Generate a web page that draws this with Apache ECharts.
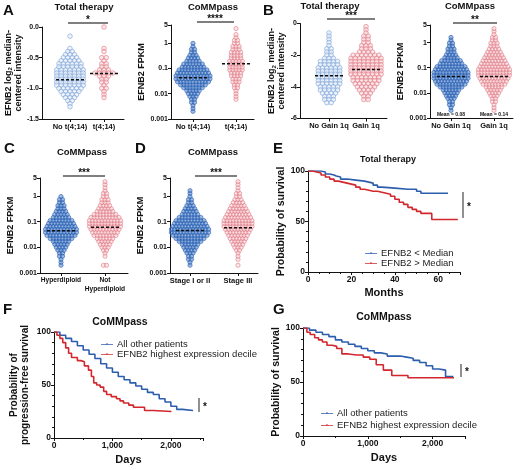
<!DOCTYPE html>
<html>
<head>
<meta charset="utf-8">
<script src="https://cdn.jsdelivr.net/npm/echarts@6/dist/echarts.min.js"></script>
<style>
  html, body { margin: 0; padding: 0; background: #fff; }
  #chart { width: 520px; height: 470px; }
</style>
</head>
<body>
<div id="chart"></div>
<script>
// ---- data ----
// beeswarm panels: each row is one y level, the count is how many dots sit on it
var intensityRowsA = [0, -0.05, -0.1, -0.15, -0.2, -0.25, -0.3, -0.35, -0.4, -0.45, -0.5, -0.55, -0.6, -0.65, -0.7, -0.75, -0.8, -0.85, -0.9, -0.95, -1.0, -1.05, -1.1, -1.15, -1.2, -1.25, -1.3];
var aTotalNoT414 = [0, 0, 0, 1, 0, 0, 0, 1, 2, 3, 4, 5, 6, 6, 7, 7, 7, 7, 7, 7, 6, 5, 4, 3, 2, 1, 1];
var aTotalT414 = [1, 0, 0, 0, 0, 0, 0, 1, 1, 0, 2, 1, 2, 2, 3, 5, 3, 2, 2, 1, 2, 1, 1, 1, 0, 0, 0];

var intensityRowsB = [0, -0.2, -0.4, -0.6, -0.8, -1.0, -1.2, -1.4, -1.6, -1.8, -2.0, -2.2, -2.4, -2.6, -2.8, -3.0, -3.2, -3.4, -3.6, -3.8, -4.0, -4.2, -4.4, -4.6, -4.8, -5.0];
var bTotalNoGain = [0, 0, 0, 1, 1, 1, 1, 1, 2, 2, 2, 3, 5, 5, 6, 6, 6, 6, 6, 6, 5, 5, 4, 3, 3, 2];
var bTotalGain = [0, 1, 1, 1, 2, 2, 2, 3, 3, 4, 7, 8, 8, 8, 8, 8, 8, 7, 7, 6, 5, 4, 3, 2, 2, 0];

var fpkmRows = [0.002, 0.0026, 0.0034, 0.0045, 0.006, 0.0077, 0.01, 0.013, 0.017, 0.022, 0.029, 0.038, 0.05, 0.065, 0.085, 0.11, 0.145, 0.19, 0.25, 0.32, 0.42, 0.55, 0.72, 0.95, 1.25, 1.6, 2.1, 2.8, 3.6];
var aCmNoT414 = [1, 1, 1, 2, 2, 3, 4, 5, 7, 9, 11, 12, 12, 11, 10, 8, 7, 5, 4, 3, 2, 2, 1, 1, 0, 0, 0, 0, 0];
var aCmT414 = [0, 0, 0, 0, 1, 1, 1, 1, 2, 2, 3, 3, 4, 4, 5, 5, 5, 5, 4, 4, 4, 3, 3, 2, 2, 1, 1, 0, 1];
var bCmNoGain = [1, 1, 2, 2, 3, 4, 5, 6, 8, 10, 11, 12, 12, 12, 11, 10, 8, 7, 5, 4, 3, 3, 2, 2, 1, 1, 0, 0, 0];
var bCmGain = [1, 1, 1, 2, 2, 3, 4, 5, 6, 8, 9, 10, 11, 11, 11, 10, 9, 8, 7, 6, 5, 4, 3, 3, 2, 2, 1, 1, 1];
var cHyper = [1, 1, 1, 2, 2, 3, 4, 5, 6, 8, 10, 11, 11, 10, 9, 8, 6, 5, 4, 3, 3, 2, 2, 1, 0, 0, 0, 0, 0];
var cNotHyper = [2, 0, 0, 1, 1, 2, 3, 4, 5, 6, 8, 9, 10, 11, 11, 11, 10, 8, 6, 5, 4, 3, 3, 2, 2, 1, 1, 1, 1];
var dStage12 = [1, 1, 2, 2, 3, 4, 5, 6, 8, 10, 12, 13, 13, 12, 11, 10, 8, 6, 5, 4, 3, 2, 2, 1, 1, 1, 0, 0, 0];
var dStage3 = [1, 0, 1, 1, 1, 2, 3, 4, 5, 6, 7, 8, 9, 10, 10, 10, 9, 8, 7, 6, 5, 4, 3, 2, 2, 1, 1, 1, 1];

var aTotalMedians = [-0.86, -0.76];
var aCmMedians = [0.042, 0.15];
var bTotalMedians = [-3.3, -2.9];
var bCmMedians = [0.045, 0.045];
var cMedians = [0.044, 0.06];
var dMedians = [0.045, 0.058];

var aCats = ['No t(4;14)', 't(4;14)'];
var bCats = ['No Gain 1q', 'Gain 1q'];
var cCats = ['Hyperdiploid', 'Not\nHyperdiploid'];
var dCats = ['Stage I or II', 'Stage III'];
var bMeanLabels = ['Mean = 0.08', 'Mean = 0.14'];

var fpkmTicks = [0.001, 0.01, 0.1, 1, 5];

// Kaplan-Meier curves
var eLowMonths = [0, 4, 6, 8, 10, 12, 13, 15, 18, 22, 26, 28, 30, 32, 34, 40, 46, 50, 52, 64.5];
var eLowSurv = [100, 100, 99, 97, 96, 95, 94, 92, 91, 90, 89, 88, 86, 84, 83, 82, 82, 80, 78, 78];
var eHighMonths = [0, 2, 4, 6, 8, 10, 12, 14, 16, 18, 20, 22, 24, 26, 28, 30, 32, 34, 36, 38, 40, 42, 44, 46, 48, 50, 52, 57, 69];
var eHighSurv = [100, 99, 98, 96, 94, 92, 90, 89, 88, 87, 86, 84, 82, 81, 80, 80, 79, 78, 77, 75, 72, 69, 67, 64, 62, 60, 58, 52, 52];

var fOtherDays = [0, 100, 200, 300, 400, 500, 600, 700, 800, 900, 1000, 1100, 1200, 1300, 1400, 1500, 1600, 1700, 1800, 1900, 2000, 2100, 2200, 2380];
var fOtherPfs = [100, 97, 94, 91, 87, 83, 79, 75, 70, 66, 62, 58, 55, 52, 49, 46, 43, 41, 37, 34, 30, 27, 26, 26];
var fDecileDays = [0, 50, 100, 150, 200, 250, 300, 400, 460, 520, 590, 640, 680, 730, 790, 850, 900, 980, 1070, 1130, 1190, 1280, 1360, 1550, 1700, 2010];
var fDecilePfs = [100, 97, 94, 90, 85, 80, 76, 73, 72, 68, 64, 58, 52, 50, 48, 44, 41, 39, 37, 35, 33, 31, 29, 26, 25, 25];

var gOtherDays = [0, 100, 200, 300, 400, 500, 600, 700, 800, 900, 1000, 1100, 1200, 1300, 1400, 1500, 1600, 1700, 1800, 1900, 2000, 2100, 2200, 2320];
var gOtherOs = [100, 98, 96, 94, 92, 89, 87, 85, 83, 81, 79, 77, 76, 74, 74, 73, 72, 70, 68, 65, 62, 61, 55, 55];
var gDecileDays = [0, 60, 110, 180, 240, 300, 370, 450, 520, 600, 700, 830, 930, 1030, 1130, 1240, 1370, 1400, 1620, 2330];
var gDecileOs = [100, 96, 94, 91, 89, 87, 84, 83, 81, 76, 75, 75, 73, 71, 66, 61, 56, 56, 54, 54];

// ---- styling ----
var FONT = '"Liberation Sans", Arial, sans-serif';
var INK = '#111';
var KM_BLUE = '#2d5eae';
var KM_RED = '#d2272d';
var dotStyles = {
  blueLight: {color: 'rgba(225,235,250,0.7)', borderColor: '#7fa3d6', borderWidth: 0.8},
  blueDense: {color: 'rgba(75,125,200,0.65)', borderColor: '#2b62b2', borderWidth: 0.8},
  red: {color: 'rgba(248,205,210,0.6)', borderColor: '#e07d88', borderWidth: 0.8}
};

var grids = [], xAxes = [], yAxes = [], series = [], graphics = [];

function axisBase(k) {
  return {
    gridIndex: k,
    axisLine: {show: true, onZero: false, lineStyle: {color: INK, width: 1}},
    axisTick: {show: true, length: 3, lineStyle: {color: INK}},
    axisLabel: {color: INK, fontFamily: FONT, fontWeight: 'bold', fontSize: 7, margin: 3},
    splitLine: {show: false},
    nameTextStyle: {color: INK, fontFamily: FONT, fontWeight: 'bold', fontSize: 9}
  };
}

// lay out one row-count profile as a beeswarm around the category centre
function swarm(rows, counts, cat, unitPx, stepPx) {
  var pts = [];
  var step = stepPx / unitPx;
  rows.forEach(function (y, i) {
    var n = counts[i];
    for (var j = 0; j < n; j++) {
      pts.push([cat + (j - (n - 1) / 2) * step, y]);
    }
  });
  return pts;
}

var intensityName = 'EFNB2 log{sub|2} median-\ncentered intensity';

var swarmPanels = [
  {box: [42, 27, 124, 119], c: [70, 104], log: false, yMin: -1.5, yMax: 0, yStep: 0.5, digits: 1,
   yName: intensityName, gap: 16, cats: aCats, rows: intensityRowsA, groups: [aTotalNoT414, aTotalT414],
   med: aTotalMedians, blue: 'blueLight', dot: 4.6, step: 4.4},
  {box: [171, 25, 254, 119], c: [193, 236], log: true, yName: 'EFNB2 FPKM', gap: 24, cats: aCats,
   rows: fpkmRows, groups: [aCmNoT414, aCmT414], med: aCmMedians, blue: 'blueDense', dot: 4.2, step: 3.1},
  {box: [300, 23.5, 387, 118.5], c: [329, 366], log: false, yMin: -6, yMax: 0, yStep: 2, digits: 0,
   yName: intensityName, gap: 12, cats: bCats, rows: intensityRowsB, groups: [bTotalNoGain, bTotalGain],
   med: bTotalMedians, blue: 'blueLight', dot: 4.6, step: 4.3},
  {box: [430, 25, 513, 118], c: [451, 494], log: true, yName: 'EFNB2 FPKM', gap: 24, cats: bCats,
   rows: fpkmRows, groups: [bCmNoGain, bCmGain], med: bCmMedians, blue: 'blueDense', dot: 4.2, step: 3.1},
  {box: [40, 178, 128, 273], c: [61, 105], log: true, yName: 'EFNB2 FPKM', gap: 23, cats: cCats, labelSize: 6.6,
   rows: fpkmRows, groups: [cHyper, cNotHyper], med: cMedians, blue: 'blueDense', dot: 4.2, step: 3.1},
  {box: [170, 178, 258, 273], c: [190, 238], log: true, yName: 'EFNB2 FPKM', gap: 23, cats: dCats,
   rows: fpkmRows, groups: [dStage12, dStage3], med: dMedians, blue: 'blueDense', dot: 4.2, step: 3.1}
];

swarmPanels.forEach(function (p) {
  var k = grids.length;
  var unit = p.c[1] - p.c[0];
  grids.push({left: p.box[0], top: p.box[1], width: p.box[2] - p.box[0], height: p.box[3] - p.box[1]});

  var xa = axisBase(k);
  xa.type = 'value';
  xa.min = (p.box[0] - p.c[0]) / unit;
  xa.max = (p.box[2] - p.c[0]) / unit;
  xa.axisTick.customValues = [0, 1];
  xa.axisLabel.customValues = [0, 1];
  xa.axisLabel.showMinLabel = true;
  xa.axisLabel.showMaxLabel = true;
  xa.axisLabel.hideOverlap = false;
  xa.axisLabel.fontSize = p.labelSize || 7.5;
  xa.axisLabel.lineHeight = 9;
  xa.axisLabel.formatter = function (v) { return p.cats[Math.round(v)]; };
  xAxes.push(xa);

  var ya = axisBase(k);
  if (p.log) {
    ya.type = 'log';
    ya.logBase = 10;
    ya.min = 0.001;
    ya.max = 5;
    ya.axisTick.customValues = fpkmTicks;
    ya.axisLabel.customValues = fpkmTicks;
    ya.axisLabel.formatter = function (v) { return String(+v.toPrecision(3)); };
  } else {
    ya.type = 'value';
    ya.min = p.yMin;
    ya.max = p.yMax;
    ya.interval = p.yStep;
    ya.axisLabel.formatter = function (v) { return v.toFixed(p.digits); };
  }
  ya.name = p.yName;
  ya.nameLocation = 'middle';
  ya.nameRotate = 90;
  ya.nameGap = p.gap;
  ya.nameTextStyle.lineHeight = 10;
  ya.nameTextStyle.rich = {sub: {fontSize: 6, fontWeight: 'bold', fontFamily: FONT, color: INK, verticalAlign: 'bottom', lineHeight: 10}};
  yAxes.push(ya);

  p.groups.forEach(function (counts, g) {
    series.push({
      type: 'scatter', xAxisIndex: k, yAxisIndex: k, symbolSize: p.dot, silent: true,
      itemStyle: dotStyles[g === 0 ? p.blue : 'red'],
      data: swarm(p.rows, counts, g, unit, p.step)
    });
  });
  p.med.forEach(function (m, g) {
    var half = 14 / unit;
    series.push({
      type: 'line', xAxisIndex: k, yAxisIndex: k, symbol: 'none', silent: true, z: 5,
      lineStyle: {color: INK, width: 1.5, type: [3, 2]},
      data: [[g - half, m], [g + half, m]]
    });
  });
});

var legendIcon = 'path://M0,4L26,4L26,5.6L0,5.6Z M12,1L14,1L14,5.6L12,5.6Z';
var kmPanels = [
  {box: [308, 171, 460, 272], xMax: 70, xStep: 20, xMinor: 4, xName: 'Months', xGap: 15,
   yName: 'Probability of survival', yGap: 21, ySize: 10.5, names: ['EFNB2 < Median', 'EFNB2 > Median'],
   curves: [[eLowMonths, eLowSurv], [eHighMonths, eHighSurv]], legend: [360, 243, 0]},
  {box: [54, 332, 203, 438], xMax: 2550, xStep: 1000, xMinor: 2, xName: 'Days', xGap: 16,
   yName: 'Probability of\nprogression-free survival', yGap: 23, ySize: 10, names: ['All other patients', 'EFNB2 highest expression decile'],
   curves: [[fOtherDays, fOtherPfs], [fDecileDays, fDecilePfs]], legend: [96, 334, 0]},
  {box: [303, 328, 465, 436], xMax: 2500, xStep: 1000, xMinor: 2, xName: 'Days', xGap: 16,
   yName: 'Probability of survival', yGap: 21, ySize: 10.5, names: ['All other patients', 'EFNB2 highest expression decile'],
   curves: [[gOtherDays, gOtherOs], [gDecileDays, gDecileOs]], legend: [316, 403, 2]}
];

var legends = [];
kmPanels.forEach(function (p) {
  var k = grids.length;
  grids.push({left: p.box[0], top: p.box[1], width: p.box[2] - p.box[0], height: p.box[3] - p.box[1]});

  var xa = axisBase(k);
  xa.type = 'value';
  xa.min = 0;
  xa.max = p.xMax;
  xa.interval = p.xStep;
  xa.minorTick = {show: true, splitNumber: p.xMinor, length: 2, lineStyle: {color: INK}};
  xa.axisLabel.fontSize = 8.5;
  xa.axisLabel.showMaxLabel = false;
  xa.axisLabel.formatter = function (v) { return v >= 1000 ? (v / 1000) + ',000' : String(v); };
  xa.name = p.xName;
  xa.nameLocation = 'middle';
  xa.nameGap = p.xGap;
  xa.nameTextStyle.fontSize = 11;
  xAxes.push(xa);

  var ya = axisBase(k);
  ya.type = 'value';
  ya.min = 0;
  ya.max = 100;
  ya.interval = 50;
  ya.minorTick = {show: true, splitNumber: 5, length: 2, lineStyle: {color: INK}};
  ya.axisLabel.fontSize = 8.5;
  ya.name = p.yName;
  ya.nameLocation = 'middle';
  ya.nameRotate = 90;
  ya.nameGap = p.yGap;
  ya.nameTextStyle.fontSize = p.ySize;
  ya.nameTextStyle.lineHeight = 11;
  yAxes.push(ya);

  p.curves.forEach(function (c, g) {
    series.push({
      name: p.names[g], type: 'line', step: 'end', xAxisIndex: k, yAxisIndex: k,
      symbol: 'none', silent: true, color: g === 0 ? KM_BLUE : KM_RED,
      lineStyle: {width: 1.6},
      data: c[0].map(function (t, i) { return [t, c[1][i]]; })
    });
  });

  legends.push({
    data: p.names, left: p.legend[0], top: p.legend[1], orient: 'vertical',
    itemWidth: 12, itemHeight: 4, itemGap: p.legend[2], icon: legendIcon, selectedMode: false,
    textStyle: {fontFamily: FONT, fontSize: 9.5, color: '#222', padding: [0, 0, 0, -1]}
  });
});

// ---- annotations: panel letters, titles, significance marks ----
function text(x, y, str, size, opt) {
  opt = opt || {};
  graphics.push({
    type: 'text', x: x, y: y, silent: true,
    style: {text: str, fontFamily: FONT, fontSize: size, fontWeight: opt.weight || 'bold',
      fill: opt.fill || INK, align: opt.align || 'center', verticalAlign: opt.valign || 'middle'}
  });
}
function rule(x1, y1, x2, y2) {
  graphics.push({type: 'line', silent: true, shape: {x1: x1, y1: y1, x2: x2, y2: y2},
    style: {stroke: '#555', lineWidth: 1.3}});
}

[['A', 3, 3], ['B', 263, 3], ['C', 4, 141], ['D', 135, 141], ['E', 273, 141], ['F', 3, 302], ['G', 273, 302]]
  .forEach(function (l) { text(l[1], l[2], l[0], 15, {align: 'left', valign: 'top'}); });

text(84, 7, 'Total therapy', 9.5);
text(213, 7, 'CoMMpass', 9.5);
text(330, 6, 'Total therapy', 9.5);
text(470, 6, 'CoMMpass', 9.5);
text(82, 152, 'CoMMpass', 9.5);
text(213, 152, 'CoMMpass', 9.5);
text(388, 160, 'Total therapy', 9);
text(120, 322, 'CoMMpass', 10.5);
text(384, 317, 'CoMMpass', 10.5);

rule(68, 23, 108, 23); text(88, 20, '*', 10);
rule(197, 22, 234, 22); text(215, 19, '****', 10);
rule(327, 19, 375, 19); text(351, 16, '***', 10);
rule(453, 23, 497, 23); text(475, 20, '**', 10);
rule(63, 176, 105, 176); text(84, 173, '***', 10);
rule(195, 176, 237, 176); text(216, 173, '***', 10);
rule(463, 192, 463, 218); text(467, 207, '*', 10, {align: 'left'});
rule(199, 398, 199, 412); text(203, 407, '*', 10, {align: 'left'});
rule(461, 364, 461, 377); text(465, 372, '*', 10, {align: 'left'});

text(451, 115, bMeanLabels[0], 5);
text(494, 115, bMeanLabels[1], 5);

var chart = echarts.init(document.getElementById('chart'));
chart.setOption({
  animation: false,
  backgroundColor: '#fff',
  textStyle: {fontFamily: FONT},
  grid: grids,
  xAxis: xAxes,
  yAxis: yAxes,
  legend: legends,
  series: series,
  graphic: graphics
});
</script>
</body>
</html>
